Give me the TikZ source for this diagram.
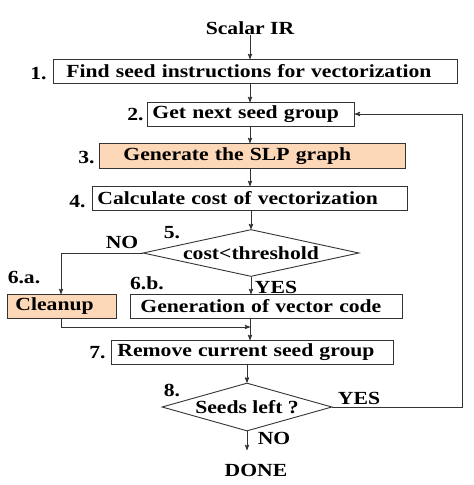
\documentclass[tikz,border=0pt]{standalone}
\usepackage{fontspec}
\setmainfont{Liberation Serif}[FakeStretch=1.17]
\usepackage{tikz}
\usetikzlibrary{arrows, shapes.geometric, positioning}
\definecolor{colorStage}{HTML}{FCD8B8}
\colorlet{colorLine}{black!80}
\tikzset{every node/.style={font=\bfseries\fontsize{18.5}{20}\selectfont}}

\begin{document}
\begin{tikzpicture}[x=1pt, y=-1pt, >=stealth', line width=0.9pt, draw=colorLine,
  box/.style={draw=colorLine, rectangle, anchor=north west, minimum height=24pt, inner ysep=0pt, align=left},
  hot/.style={box, fill=colorStage},
  test/.style={draw=colorLine, diamond, inner sep=-1pt},
  tag/.style={inner sep=0pt}]
\useasboundingbox (0,0) rectangle (474,485);
\node[tag] (src) at (250,28) {Scalar IR};
\node[box, text width=378pt, inner xsep=13pt] (find) at (53,59) {Find seed instructions for vectorization};
\node[box, text width=197pt, inner xsep=5pt] (next) at (147,102) {Get next seed group};
\node[hot, text width=258pt, inner xsep=24pt, minimum height=25pt] (slp) at (99,143) {Generate the SLP graph};
\node[box, text width=305pt, inner xsep=5pt] (cost) at (92,186) {Calculate cost of vectorization};
\node[test, minimum width=216pt, minimum height=47pt, aspect=4.6] (thr) at (251,253) {cost<threshold};
\node[hot, text width=93pt, inner xsep=8pt] (clean) at (7,294) {Cleanup};
\node[box, text width=252pt, inner xsep=10pt] (vec) at (130,294) {Generation of vector code};
\node[box, text width=270pt, inner xsep=6pt] (rem) at (111,340) {Remove current seed group};
\node[test, minimum width=170pt, minimum height=48pt, aspect=3.5] (left) at (247,407) {Seeds left ?};
\node[tag] (done) at (256,470) {DONE};
% step numbers
\node[tag, left=6pt of find, yshift=-2pt] {1.};
\node[tag, left=3pt of next] {2.};
\node[tag, left=4pt of slp, yshift=-2pt] {3.};
\node[tag, left=6pt of cost, yshift=-3pt] {4.};
\node[tag] at (172,233) {5.};
\node[tag] at (24,278) {6.a.};
\node[tag] at (147,283) {6.b.};
\node[tag, left=5pt of rem] {7.};
\node[tag] at (172,390) {8.};
% branch labels
\node[tag] at (122,242) {NO};
\node[tag] at (276,287) {YES};
\node[tag] at (359,398) {YES};
\node[tag] at (274,438) {NO};
% connectors
\coordinate (join) at (250,327);
\draw[->] (src) -- (src |- find.north);
\draw[->] (find.south -| src) -- (next.north -| src);
\draw[->] (next.south -| src) -- (slp.north -| src);
\draw[->] (slp.south -| src) -- (cost.north -| src);
\draw[->] (cost.south -| thr) -- (thr.north);
\draw[->] (thr.south) -- (vec.north -| thr);
\draw[->] (thr.west) -| (clean.north -| 61,0);
\draw[->] (clean.south -| 61,0) |- (join);
\draw[->] (vec.south -| join) -- (rem.north -| join);
\draw[->] (rem.south -| left) -- (left.north);
\draw[->] (left.south) -- (left.south |- 0,450);
\draw[->] (left.east) -| (462,114) -- (next.east |- 0,114);
\end{tikzpicture}
\end{document}
